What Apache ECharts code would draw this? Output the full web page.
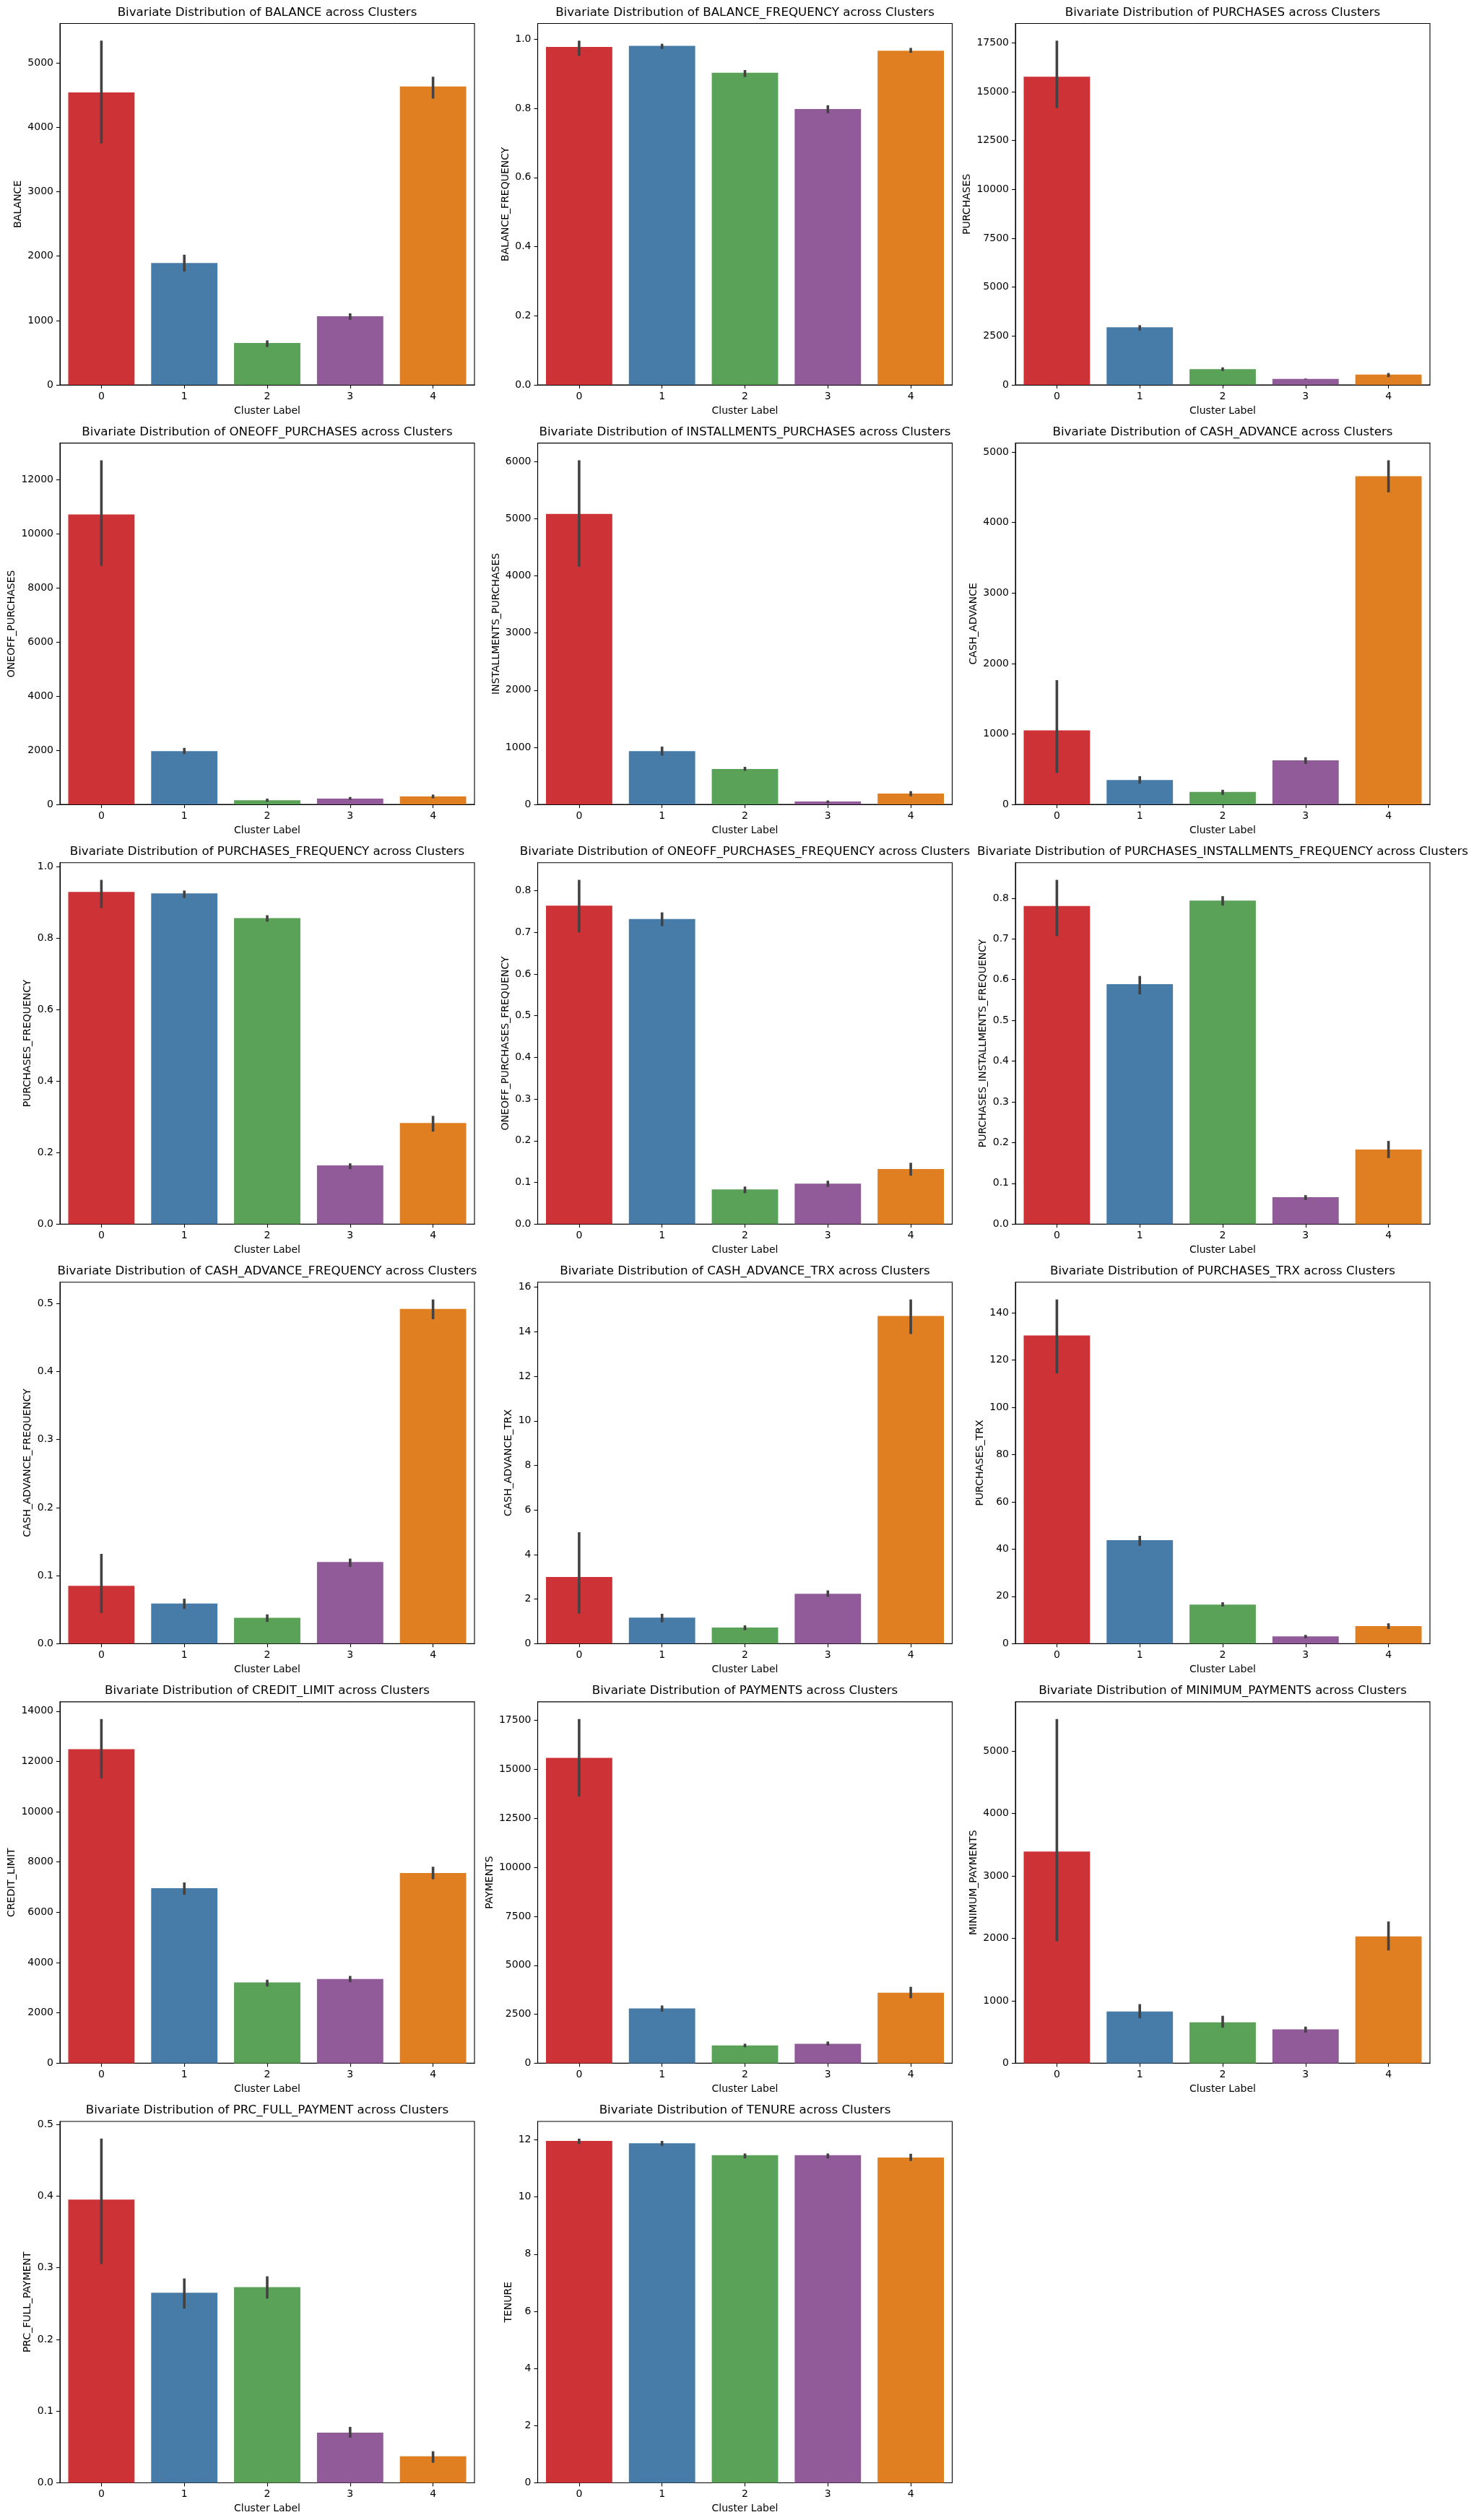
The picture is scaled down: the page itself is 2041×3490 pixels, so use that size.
<!DOCTYPE html>
<html>
<head>
<meta charset="utf-8">
<script src="https://cdn.jsdelivr.net/npm/echarts@6/dist/echarts.min.js"></script>
<style>
html, body { margin: 0; padding: 0; background: #fff; }
#main { width: 2041px; height: 3490px; }
</style>
</head>
<body>
<div id="main"></div>
<script>
var clusters = ['0', '1', '2', '3', '4'];
var palette = ['#CD3336', '#477CA8', '#59A257', '#915A98', '#E07F21'];

// cluster means and the ends of the error bars
var balance = [4544, 1894, 651, 1067, 4636];
var balanceLo = [3749, 1763, 588, 1011, 4448];
var balanceHi = [5348, 2022, 691, 1111, 4788];
var balanceTicks = [0, 1000, 2000, 3000, 4000, 5000];

var balanceFreq = [0.978, 0.981, 0.903, 0.798, 0.967];
var balanceFreqLo = [0.952, 0.972, 0.891, 0.786, 0.961];
var balanceFreqHi = [0.996, 0.987, 0.911, 0.809, 0.975];
var balanceFreqTicks = [0, 0.2, 0.4, 0.6, 0.8, 1.0];

var purchases = [15763, 2947, 803, 303, 526];
var purchasesLo = [14158, 2776, 711, 285, 395];
var purchasesHi = [17605, 3053, 895, 322, 605];
var purchasesTicks = [0, 2500, 5000, 7500, 10000, 12500, 15000, 17500];

var oneoff = [10720, 1972, 158, 217, 296];
var oneoffLo = [8817, 1864, 99, 168, 227];
var oneoffHi = [12722, 2091, 217, 276, 365];
var oneoffTicks = [0, 2000, 4000, 6000, 8000, 10000, 12000];

var installments = [5084, 934, 621, 51, 191];
var installmentsLo = [4160, 854, 588, 23, 145];
var installmentsHi = [6022, 1013, 658, 70, 233];
var installmentsTicks = [0, 1000, 2000, 3000, 4000, 5000, 6000];

var cashAdvance = [1052, 348, 178, 625, 4656];
var cashAdvanceLo = [447, 295, 136, 575, 4428];
var cashAdvanceHi = [1764, 401, 208, 670, 4883];
var cashAdvanceTicks = [0, 1000, 2000, 3000, 4000, 5000];

var purchFreq = [0.930, 0.926, 0.857, 0.164, 0.283];
var purchFreqLo = [0.885, 0.913, 0.847, 0.154, 0.259];
var purchFreqHi = [0.964, 0.934, 0.865, 0.170, 0.303];
var purchFreqTicks = [0, 0.2, 0.4, 0.6, 0.8, 1.0];

var oneoffFreq = [0.764, 0.732, 0.083, 0.097, 0.132];
var oneoffFreqLo = [0.700, 0.715, 0.074, 0.089, 0.116];
var oneoffFreqHi = [0.826, 0.748, 0.090, 0.104, 0.147];
var oneoffFreqTicks = [0, 0.1, 0.2, 0.3, 0.4, 0.5, 0.6, 0.7, 0.8];

var instFreq = [0.781, 0.589, 0.794, 0.066, 0.183];
var instFreqLo = [0.707, 0.564, 0.782, 0.059, 0.162];
var instFreqHi = [0.845, 0.609, 0.805, 0.071, 0.204];
var instFreqTicks = [0, 0.1, 0.2, 0.3, 0.4, 0.5, 0.6, 0.7, 0.8];

var cashFreq = [0.085, 0.059, 0.038, 0.120, 0.492];
var cashFreqLo = [0.045, 0.051, 0.032, 0.113, 0.477];
var cashFreqHi = [0.132, 0.066, 0.043, 0.125, 0.506];
var cashFreqTicks = [0, 0.1, 0.2, 0.3, 0.4, 0.5];

var cashTrx = [2.99, 1.17, 0.72, 2.24, 14.71];
var cashTrxLo = [1.35, 0.96, 0.60, 2.10, 13.90];
var cashTrxHi = [5.00, 1.34, 0.82, 2.39, 15.45];
var cashTrxTicks = [0, 2, 4, 6, 8, 10, 12, 14, 16];

var purchTrx = [130.4, 43.8, 16.5, 3.1, 7.4];
var purchTrxLo = [114.3, 41.4, 15.7, 2.3, 6.2];
var purchTrxHi = [145.6, 45.6, 17.5, 3.7, 8.6];
var purchTrxTicks = [0, 20, 40, 60, 80, 100, 120, 140];

var creditLimit = [12489, 6961, 3211, 3351, 7565];
var creditLimitLo = [11325, 6703, 3050, 3222, 7317];
var creditLimitHi = [13685, 7187, 3319, 3470, 7812];
var creditLimitTicks = [0, 2000, 4000, 6000, 8000, 10000, 12000, 14000];

var payments = [15592, 2794, 913, 996, 3597];
var paymentsLo = [13614, 2629, 816, 899, 3320];
var paymentsHi = [17570, 2947, 996, 1107, 3901];
var paymentsTicks = [0, 2500, 5000, 7500, 10000, 12500, 15000, 17500];

var minPayments = [3390, 829, 655, 543, 2031];
var minPaymentsLo = [1953, 720, 569, 490, 1806];
var minPaymentsHi = [5512, 946, 760, 586, 2270];
var minPaymentsTicks = [0, 1000, 2000, 3000, 4000, 5000];

var prcFull = [0.395, 0.265, 0.273, 0.070, 0.037];
var prcFullLo = [0.305, 0.243, 0.257, 0.063, 0.028];
var prcFullHi = [0.480, 0.285, 0.288, 0.078, 0.044];
var prcFullTicks = [0, 0.1, 0.2, 0.3, 0.4, 0.5];

var tenure = [11.96, 11.88, 11.46, 11.46, 11.38];
var tenureLo = [11.85, 11.79, 11.35, 11.35, 11.26];
var tenureHi = [12.04, 11.96, 11.52, 11.52, 11.51];
var tenureTicks = [0, 2, 4, 6, 8, 10, 12];

// name, mean, low, high, ticks, decimals
var panels = [
    ['BALANCE', balance, balanceLo, balanceHi, balanceTicks, 0],
    ['BALANCE_FREQUENCY', balanceFreq, balanceFreqLo, balanceFreqHi, balanceFreqTicks, 1],
    ['PURCHASES', purchases, purchasesLo, purchasesHi, purchasesTicks, 0],
    ['ONEOFF_PURCHASES', oneoff, oneoffLo, oneoffHi, oneoffTicks, 0],
    ['INSTALLMENTS_PURCHASES', installments, installmentsLo, installmentsHi, installmentsTicks, 0],
    ['CASH_ADVANCE', cashAdvance, cashAdvanceLo, cashAdvanceHi, cashAdvanceTicks, 0],
    ['PURCHASES_FREQUENCY', purchFreq, purchFreqLo, purchFreqHi, purchFreqTicks, 1],
    ['ONEOFF_PURCHASES_FREQUENCY', oneoffFreq, oneoffFreqLo, oneoffFreqHi, oneoffFreqTicks, 1],
    ['PURCHASES_INSTALLMENTS_FREQUENCY', instFreq, instFreqLo, instFreqHi, instFreqTicks, 1],
    ['CASH_ADVANCE_FREQUENCY', cashFreq, cashFreqLo, cashFreqHi, cashFreqTicks, 1],
    ['CASH_ADVANCE_TRX', cashTrx, cashTrxLo, cashTrxHi, cashTrxTicks, 0],
    ['PURCHASES_TRX', purchTrx, purchTrxLo, purchTrxHi, purchTrxTicks, 0],
    ['CREDIT_LIMIT', creditLimit, creditLimitLo, creditLimitHi, creditLimitTicks, 0],
    ['PAYMENTS', payments, paymentsLo, paymentsHi, paymentsTicks, 0],
    ['MINIMUM_PAYMENTS', minPayments, minPaymentsLo, minPaymentsHi, minPaymentsTicks, 0],
    ['PRC_FULL_PAYMENT', prcFull, prcFullLo, prcFullHi, prcFullTicks, 1],
    ['TENURE', tenure, tenureLo, tenureHi, tenureTicks, 0]
];

var FONT = 'DejaVu Sans';
var gridW = 574, gridH = 500.5;
var colLeft = [83, 744.5, 1406];
var rowTop0 = 32.5, rowPitch = 581.1;

var chart = echarts.init(document.getElementById('main'));

var grids = [], xAxes = [], yAxes = [], series = [], graphics = [];

panels.forEach(function (p, k) {
    var name = p[0], mean = p[1], lo = p[2], hi = p[3], ticks = p[4], dec = p[5];
    var col = k % 3, row = Math.floor(k / 3);
    var left = colLeft[col], top = rowTop0 + rowPitch * row;

    grids.push({
        left: left, top: top, width: gridW, height: gridH,
        show: true, borderColor: '#000', borderWidth: 1.1, backgroundColor: 'transparent'
    });

    xAxes.push({
        type: 'category', gridIndex: k, data: clusters,
        axisLine: { show: true, lineStyle: { color: '#000', width: 1.1 } },
        axisTick: { show: true, alignWithLabel: true, length: 5, lineStyle: { color: '#000', width: 1.1 } },
        axisLabel: { color: '#000', fontSize: 14, fontFamily: FONT, margin: 9 },
        name: 'Cluster Label', nameLocation: 'middle', nameGap: 29,
        nameTextStyle: { color: '#000', fontSize: 14, fontFamily: FONT }
    });

    // widest tick label decides how far the axis name sits
    var widest = 0;
    ticks.forEach(function (t) {
        var s = t.toFixed(dec);
        var w = 0;
        for (var i = 0; i < s.length; i++) w += (s[i] === '.') ? 4.45 : 8.9;
        if (w > widest) widest = w;
    });

    yAxes.push({
        type: 'value', gridIndex: k, min: 0, max: Math.max.apply(null, hi) * 1.05,
        splitLine: { show: false },
        axisLine: { show: true, lineStyle: { color: '#000', width: 1.1 } },
        axisTick: { show: true, length: 5, customValues: ticks, lineStyle: { color: '#000', width: 1.1 } },
        axisLabel: {
            color: '#000', fontSize: 14, fontFamily: FONT, margin: 9, customValues: ticks,
            formatter: function (v) { return Number(v).toFixed(dec); }
        },
        name: name, nameLocation: 'middle', nameGap: 15 + widest,
        nameTextStyle: { color: '#000', fontSize: 14, fontFamily: FONT }
    });

    series.push({
        type: 'bar', xAxisIndex: k, yAxisIndex: k,
        barCategoryGap: '20%',
        data: mean.map(function (v, i) { return { value: v, itemStyle: { color: palette[i] } }; })
    });

    series.push({
        type: 'custom', xAxisIndex: k, yAxisIndex: k, z: 5,
        data: mean.map(function (v, i) { return [i, lo[i], hi[i]]; }),
        encode: { x: 0, y: [1, 2] },
        renderItem: function (params, api) {
            var a = api.coord([api.value(0), api.value(1)]);
            var b = api.coord([api.value(0), api.value(2)]);
            return {
                type: 'line',
                shape: { x1: a[0], y1: a[1], x2: b[0], y2: b[1] },
                style: { stroke: '#424242', lineWidth: 3.6 }
            };
        }
    });

    graphics.push({
        type: 'text', x: left + gridW / 2, y: top - 15,
        style: {
            text: 'Bivariate Distribution of ' + name + ' across Clusters',
            font: '16.7px "DejaVu Sans"', fill: '#000',
            align: 'center', verticalAlign: 'middle'
        }
    });
});

chart.setOption({
    animation: false,
    textStyle: { fontFamily: FONT },
    grid: grids,
    xAxis: xAxes,
    yAxis: yAxes,
    series: series,
    graphic: graphics
});
</script>
</body>
</html>
